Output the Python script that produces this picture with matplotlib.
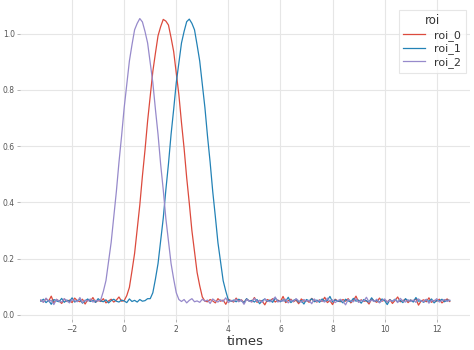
import numpy as np
import matplotlib
matplotlib.use("Agg")
import matplotlib.pyplot as plt

# time axis: -3.2 .. 12.5, step 0.1
times = np.linspace(-3.2, 12.5, 158)

# roi_0 (red), peak near t = 1.55
roi_0_pre = [0.052, 0.046, 0.058, 0.049, 0.067, 0.043, 0.055, 0.050, 0.041, 0.057,
             0.048, 0.053, 0.044, 0.060, 0.051, 0.047, 0.056, 0.039, 0.054, 0.049,
             0.062, 0.045, 0.052, 0.048, 0.058, 0.043, 0.050, 0.056, 0.046, 0.053,
             0.064, 0.049, 0.051]
roi_0_peak = [0.069, 0.098, 0.157, 0.219, 0.306, 0.391, 0.494, 0.587, 0.690, 0.777,
              0.866, 0.931, 0.993, 1.025, 1.051, 1.045, 1.031, 0.986, 0.937, 0.860,
              0.783, 0.684, 0.593, 0.488, 0.397, 0.300, 0.225, 0.151, 0.104, 0.064,
              0.049]
roi_0_post = [0.047, 0.055, 0.050, 0.043, 0.058, 0.049, 0.053, 0.038, 0.056, 0.051,
              0.046, 0.060, 0.048, 0.054, 0.044, 0.057, 0.050, 0.047, 0.062, 0.045,
              0.052, 0.049, 0.036, 0.055, 0.050, 0.058, 0.046, 0.053, 0.048, 0.066,
              0.044, 0.051, 0.056, 0.047, 0.053, 0.040, 0.057, 0.049, 0.052, 0.045,
              0.059, 0.050, 0.046, 0.054, 0.048, 0.063, 0.044, 0.051, 0.037, 0.056,
              0.050, 0.047, 0.055, 0.049, 0.058, 0.043, 0.052, 0.067, 0.046, 0.054,
              0.048, 0.051, 0.039, 0.057, 0.050, 0.045, 0.060, 0.049, 0.053, 0.046,
              0.055, 0.041, 0.052, 0.064, 0.047, 0.051, 0.056, 0.044, 0.053, 0.049,
              0.058, 0.035, 0.050, 0.054, 0.047, 0.061, 0.045, 0.052, 0.049, 0.056,
              0.043, 0.051, 0.057, 0.048]

# roi_1 (blue), peak near t = 2.5
roi_1_pre = [0.049, 0.056, 0.044, 0.052, 0.038, 0.055, 0.050, 0.047, 0.059, 0.045,
             0.053, 0.048, 0.061, 0.046, 0.051, 0.055, 0.042, 0.050, 0.057, 0.048,
             0.052, 0.045, 0.058, 0.050, 0.047, 0.054, 0.043, 0.051, 0.056, 0.049,
             0.046, 0.053, 0.050, 0.044, 0.057, 0.048, 0.052, 0.046, 0.055, 0.049,
             0.051, 0.058]
roi_1_peak = [0.058, 0.079, 0.128, 0.183, 0.264, 0.344, 0.445, 0.537, 0.642, 0.731,
              0.826, 0.897, 0.967, 1.008, 1.043, 1.052, 1.037, 1.014, 0.960, 0.903,
              0.819, 0.737, 0.635, 0.543, 0.439, 0.350, 0.257, 0.189, 0.122, 0.085,
              0.053]
roi_1_post = [0.049, 0.053, 0.047, 0.056, 0.050, 0.044, 0.058, 0.049, 0.052, 0.046,
              0.055, 0.040, 0.051, 0.057, 0.048, 0.053, 0.045, 0.060, 0.050, 0.047,
              0.054, 0.049, 0.063, 0.044, 0.052, 0.056, 0.046, 0.051, 0.039, 0.055,
              0.050, 0.058, 0.047, 0.053, 0.045, 0.057, 0.049, 0.052, 0.066, 0.046,
              0.054, 0.048, 0.051, 0.043, 0.056, 0.050, 0.047, 0.059, 0.049, 0.053,
              0.042, 0.055, 0.050, 0.046, 0.061, 0.048, 0.052, 0.045, 0.057, 0.051,
              0.037, 0.054, 0.049, 0.056, 0.047, 0.052, 0.044, 0.058, 0.050, 0.053,
              0.046, 0.062, 0.049, 0.051, 0.045, 0.055, 0.048, 0.057, 0.043, 0.052,
              0.050, 0.056, 0.047, 0.053, 0.051]

# roi_2 (purple), peak near t = 0.6
roi_2_pre = [0.054, 0.045, 0.060, 0.048, 0.052, 0.037, 0.056, 0.049, 0.046, 0.058,
             0.050, 0.043, 0.055, 0.051, 0.047, 0.062, 0.044, 0.053, 0.049, 0.057,
             0.046, 0.052, 0.050]
roi_2_peak = [0.054, 0.084, 0.122, 0.189, 0.258, 0.350, 0.439, 0.543, 0.636, 0.737,
              0.820, 0.903, 0.961, 1.014, 1.037, 1.054, 1.042, 1.008, 0.967, 0.897,
              0.826, 0.731, 0.642, 0.536, 0.445, 0.343, 0.264, 0.183, 0.128, 0.079,
              0.055]
roi_2_post = [0.048, 0.055, 0.043, 0.052, 0.058, 0.047, 0.050, 0.045, 0.056, 0.049,
              0.053, 0.041, 0.057, 0.050, 0.046, 0.054, 0.048, 0.061, 0.044, 0.052,
              0.049, 0.056, 0.047, 0.053, 0.038, 0.055, 0.050, 0.046, 0.059, 0.048,
              0.052, 0.045, 0.057, 0.050, 0.047, 0.054, 0.064, 0.046, 0.051, 0.049,
              0.056, 0.043, 0.053, 0.048, 0.058, 0.050, 0.045, 0.055, 0.049, 0.052,
              0.040, 0.057, 0.047, 0.053, 0.050, 0.046, 0.060, 0.048, 0.054, 0.044,
              0.051, 0.056, 0.049, 0.036, 0.055, 0.050, 0.047, 0.058, 0.045, 0.052,
              0.049, 0.063, 0.046, 0.053, 0.048, 0.056, 0.043, 0.051, 0.057, 0.047,
              0.052, 0.049, 0.055, 0.044, 0.059, 0.050, 0.046, 0.054, 0.048, 0.053,
              0.045, 0.057, 0.050, 0.047, 0.056, 0.042, 0.052, 0.049, 0.058, 0.046,
              0.051, 0.055, 0.048, 0.053]

roi_names = ["roi_0", "roi_1", "roi_2"]
roi_values = [roi_0_pre + roi_0_peak + roi_0_post,
              roi_1_pre + roi_1_peak + roi_1_post,
              roi_2_pre + roi_2_peak + roi_2_post]
colors = ["#dc4a3d", "#2382b6", "#978acb"]

fig = plt.figure(figsize=(4.74, 3.5), dpi=100)
ax = fig.add_axes([0.043, 0.088, 0.949, 0.912])

for name, vals, c in zip(roi_names, roi_values, colors):
    ax.plot(times, vals, color=c, lw=0.9, label=name)

ax.set_ylim(-0.015, 1.12)
ax.set_xticks([-2, 0, 2, 4, 6, 8, 10, 12])
ax.set_yticks([0.0, 0.2, 0.4, 0.6, 0.8, 1.0])
ax.set_yticklabels(["0.0", "0.2", "0.4", "0.6", "0.8", "1.0"])
ax.set_xticklabels(["\u22122", "0", "2", "4", "6", "8", "10", "12"])

for s in ax.spines.values():
    s.set_visible(False)
ax.grid(True, color="#e6e6e6", lw=0.8)
ax.set_axisbelow(True)
ax.tick_params(labelsize=5.5, labelcolor="#555555", color="#aaaaaa",
               length=2.5, width=0.6, pad=1.5)

ax.set_xlabel("times", fontsize=9.5, color="#333333", labelpad=1)

leg = ax.legend(title="roi", loc="upper right", bbox_to_anchor=(0.99, 0.97),
                fontsize=8, title_fontsize=8.5, frameon=True, fancybox=False,
                borderaxespad=0, handlelength=2.0, labelspacing=0.25,
                borderpad=0.4)
leg.get_frame().set_edgecolor("#e0e0e0")
leg.get_frame().set_linewidth(0.8)
for t in leg.get_texts():
    t.set_color("#333333")
leg.get_title().set_color("#333333")

fig.savefig("out.png", dpi=100)
